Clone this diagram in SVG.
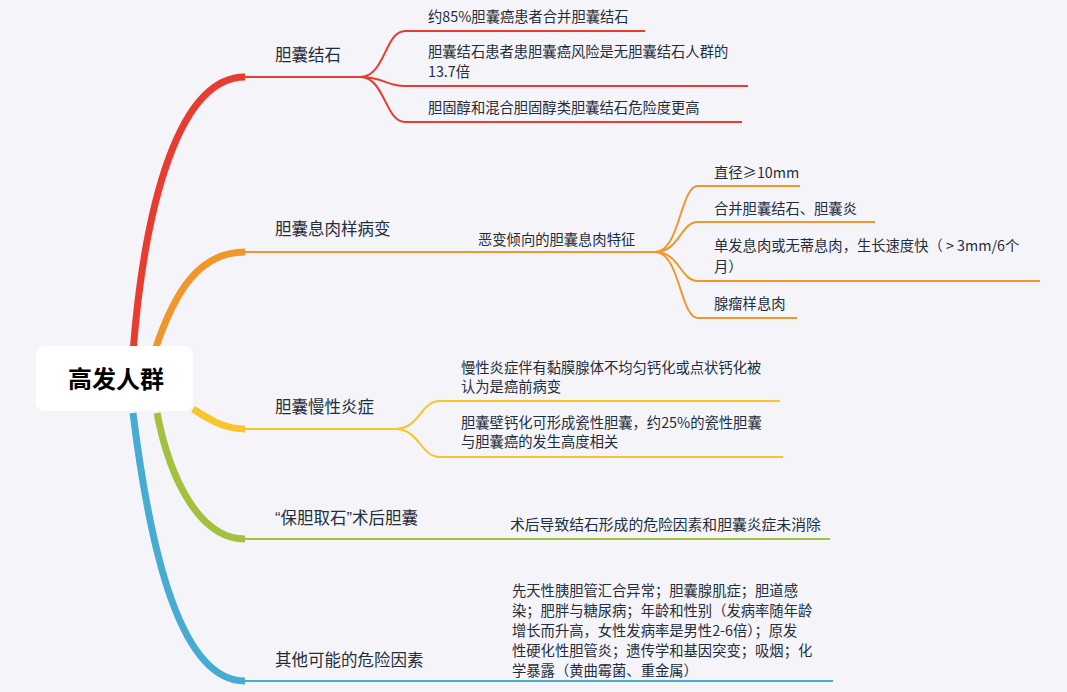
<svg xmlns="http://www.w3.org/2000/svg" width="1067" height="692" viewBox="0 0 1067 692">
<style>
text{font-family:"Noto Sans CJK SC","Liberation Sans",sans-serif;fill:#1f2d3d}
.m{font-size:16.5px}.c{font-size:14.3px}
.t{fill:none;stroke-width:7;stroke-linecap:butt}
.l{fill:none;stroke-width:2}
.q{font-family:"Liberation Sans",sans-serif}
</style>
<rect width="1067" height="692" fill="#f5f5f9"/>
<g id="connectors">
<path class="t" stroke="#e93c31" d="M133 352 C145 200,180 77,245 77"/>
<path class="l" stroke="#e93c31" d="M240 77 H360 M360 77 C385 77,385 31,405 31 H645 M360 77 C385 77,385 86,405 86 H748 M360 77 C385 77,385 122,405 122 H742"/>
<path class="t" stroke="#f0962d" d="M155 350 C175 290,200 252,245 252"/>
<path class="l" stroke="#f0962d" d="M240 252 H655 M655 252 C680 252,680 186,698 186 H800 M655 252 C680 252,680 222,698 222 H875 M655 252 C680 252,680 281,698 281 H1040 M655 252 C680 252,680 318,698 318 H797"/>
<path class="t" stroke="#f8c52c" d="M193 409 C210 420,225 429,245 429"/>
<path class="l" stroke="#f8c52c" d="M240 429 H395 M395 429 C420 429,420 401,440 401 H780 M395 429 C420 429,420 457,440 457 H783"/>
<path class="t" stroke="#a3c13e" d="M157 413 C170 480,200 539,245 539"/>
<path class="l" stroke="#a3c13e" d="M240 539 H830"/>
<path class="t" stroke="#48abd2" d="M133 413 C150 550,180 681,245 681"/>
<path class="l" stroke="#48abd2" d="M240 681 H833"/>
</g>
<g id="root"><rect x="36" y="346" width="157" height="65" rx="8" fill="#fff"/><text x="116" y="388" text-anchor="middle" style="font-size:24px;font-weight:bold;fill:#000">高发人群</text></g>
<g id="n1"><text class="m" x="275" y="61">胆囊结石</text></g>
<g id="n1a"><text class="c" x="428" y="22">约85%胆囊癌患者合并胆囊结石</text></g>
<g id="n1b"><text class="c" x="428" y="57">胆囊结石患者患胆囊癌风险是无胆囊结石人群的</text><text class="c" x="428" y="77">13.7倍</text></g>
<g id="n1c"><text class="c" x="428" y="113">胆固醇和混合胆固醇类胆囊结石危险度更高</text></g>
<g id="n2"><text class="m" x="275" y="235">胆囊息肉样病变</text></g>
<g id="n2a"><text class="c" x="478" y="245">恶变倾向的胆囊息肉特征</text></g>
<g id="n2a1"><text class="c" x="714" y="178">直径≥10mm</text></g>
<g id="n2a2"><text class="c" x="714" y="214">合并胆囊结石、胆囊炎</text></g>
<g id="n2a3"><text class="c" x="714" y="251">单发息肉或无蒂息肉，生长速度快（ &gt; 3mm/6个</text><text class="c" x="714" y="272">月）</text></g>
<g id="n2a4"><text class="c" x="714" y="309">腺瘤样息肉</text></g>
<g id="n3"><text class="m" x="275" y="413">胆囊慢性炎症</text></g>
<g id="n3a"><text class="c" x="461" y="373">慢性炎症伴有黏膜腺体不均匀钙化或点状钙化被</text><text class="c" x="461" y="392">认为是癌前病变</text></g>
<g id="n3b"><text class="c" x="461" y="428">胆囊壁钙化可形成瓷性胆囊，约25%的瓷性胆囊</text><text class="c" x="461" y="447">与胆囊癌的发生高度相关</text></g>
<g id="n4"><text class="m" x="275" y="524"><tspan class="q">“</tspan>保胆取石<tspan class="q">”</tspan>术后胆囊</text></g>
<g id="n4a"><text class="c" x="510" y="530" style="font-size:14.8px">术后导致结石形成的危险因素和胆囊炎症未消除</text></g>
<g id="n5"><text class="m" x="275" y="666">其他可能的危险因素</text></g>
<g id="n5a">
<text class="c" x="512" y="596">先天性胰胆管汇合异常；胆囊腺肌症；胆道感</text>
<text class="c" x="512" y="616">染；肥胖与糖尿病；年龄和性别（发病率随年龄</text>
<text class="c" x="512" y="636">增长而升高，女性发病率是男性2-6倍）；原发</text>
<text class="c" x="512" y="656">性硬化性胆管炎；遗传学和基因突变；吸烟；化</text>
<text class="c" x="512" y="676">学暴露（黄曲霉菌、重金属）</text>
</g>
</svg>
